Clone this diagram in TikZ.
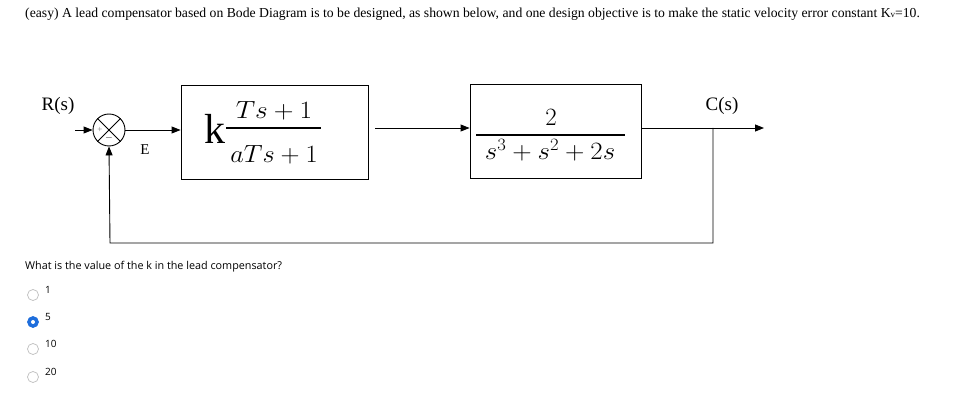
\documentclass[tikz,border=0pt]{standalone}
\usepackage{fontspec}
\setmainfont{Liberation Serif}
\newfontfamily\qfont{Open Sans}
\usetikzlibrary{arrows.meta}
\definecolor{radiogray}{RGB}{190,190,190}
\definecolor{radioblue}{RGB}{30,110,220}
\tikzset{
  blk/.style={draw, line width=0.9pt, inner sep=0pt},
  sumj/.style={draw, circle, line width=0.9pt, minimum size=32pt, inner sep=0pt},
  sig/.style={line width=0.9pt, -{Triangle[length=9pt,width=7pt]}},
  wire/.style={line width=0.9pt},
  lbl/.style={font=\fontsize{19}{21}\selectfont, inner sep=0pt},
  mth/.style={inner sep=0pt, anchor=base},
  radio/.style={circle, draw=radiogray, line width=0.7pt, minimum size=11pt, inner sep=0pt, fill=white},
  opt/.style={font=\qfont\fontsize{10}{12}\selectfont, anchor=base west, inner sep=0pt}
}
\begin{document}
\begin{tikzpicture}[x=1pt,y=-1pt]
\useasboundingbox[fill=white] (0,0) rectangle (957,403);

% title
\node[anchor=base west, inner sep=0pt, font=\fontsize{13.7}{16}\selectfont] (title) at (25,18)
  {(easy) A lead compensator based on Bode Diagram is to be designed, as shown below, and one design objective is to make the static velocity error constant K{\fontsize{9}{10}\selectfont v}=10.};

% summing junction
\node[sumj] (sum) at (109,130) {};
\draw[wire] (sum.north west) -- (sum.south east) (sum.north east) -- (sum.south west);
\node[font=\fontsize{9}{9}\selectfont, text=gray, inner sep=0pt] (plus) at (100,130) {+};
\node[font=\fontsize{10}{10}\selectfont, inner sep=0pt] (minus) at (109,138) {$-$};

% blocks
\node[blk, minimum width=187pt, minimum height=94pt] (b1) at (274.5,132.5) {};
\node[blk, minimum width=171pt, minimum height=94pt] (b2) at (555.5,131) {};

% block 1 content
\node[inner sep=0pt, font=\fontsize{42}{46}\selectfont, anchor=base west] (k) at (204,144) {k};
\node[mth, font=\fontsize{25}{28}\selectfont] (n1) at (274,119) {\scalebox{1.1}[1]{$Ts+1$}};
\node[mth, font=\fontsize{25}{28}\selectfont] (d1) at (274,163) {\scalebox{1.06}[1]{$aTs+1$}};
\draw[line width=1.1pt] (226,128) -- (321,128);

% block 2 content
\node[mth, font=\fontsize{28}{30}\selectfont] (n2) at (551,126) {$2$};
\node[mth, font=\fontsize{27}{30}\selectfont] (d2) at (550,160) {\scalebox{1.08}[1]{$s^3+s^2+2s$}};
\draw[line width=1.1pt] (476,135) -- (625,135);

% labels
\node[lbl] (R) at (58,106) {R(s)};
\node[lbl, font=\fontsize{15}{17}\selectfont] (E) at (145,150) {E};
\node[lbl] (C) at (722,106) {C(s)};

% signals
\coordinate (in) at (75,130);
\coordinate (out) at (764,128);
\coordinate (br) at (713,128);
\coordinate (fb) at (110,243);
\draw[sig] (in) -- (sum.west);
\draw[sig] (sum.east) -- (sum.east -| b1.west);
\draw[sig] ([xshift=7pt]b1.east |- 0,128) -- (b2.west |- 0,128);
\draw[sig] (b2.east |- 0,128) -- (out);
\draw[sig] (br) |- (fb) -- (sum.south);

% question
\node[anchor=base west, inner sep=0pt, font=\qfont\fontsize{10.8}{13}\selectfont] (q) at (25,269)
  {What is the value of the k in the lead compensator?};

\node[radio] (r1) at (33,295) {};
\node[radio, draw=radioblue, fill=radioblue] (r2) at (33,322) {};
\fill[white] (r2) circle (2pt);
\node[radio] (r3) at (33,349) {};
\node[radio] (r4) at (33,377) {};
\node[opt] (o1) at (45,293) {1};
\node[opt] (o2) at (45,320) {5};
\node[opt] (o3) at (45,347) {10};
\node[opt] (o4) at (45,375) {20};
\end{tikzpicture}
\end{document}
